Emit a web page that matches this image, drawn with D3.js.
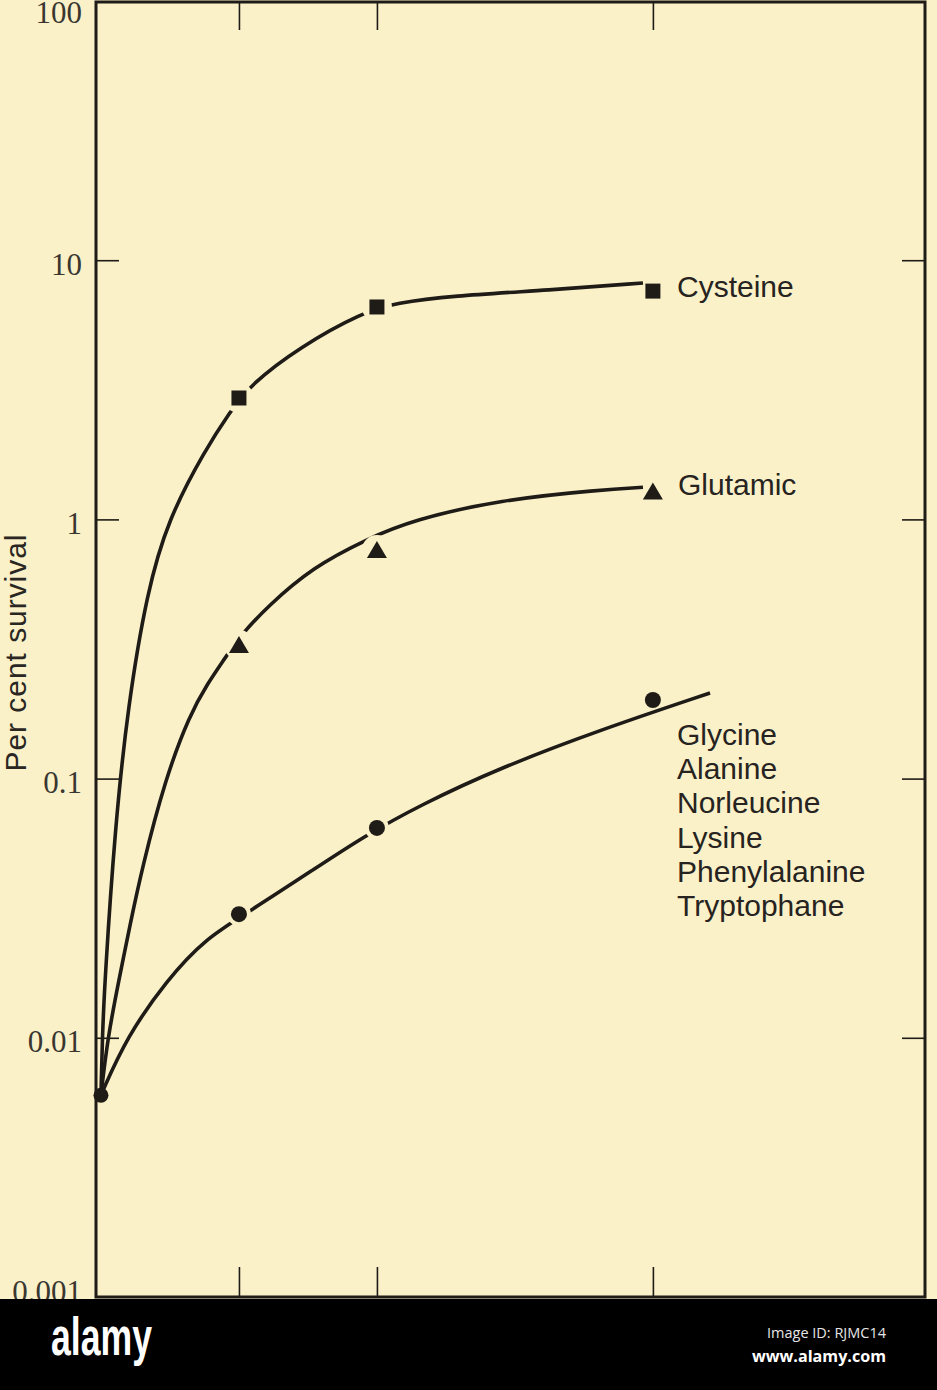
<!DOCTYPE html>
<html><head><meta charset="utf-8">
<script src="https://cdn.jsdelivr.net/npm/d3@7"></script>
<style>html,body{margin:0;padding:0;background:#FAF1C9;} svg{display:block}</style>
</head><body>
<svg id="chart" width="937" height="1390"></svg>
<script>
// ---- data ----
const yTickValues = [100, 10, 1, 0.1, 0.01, 0.001];
const yTickLabels = ["100", "10", "1", "0.1", "0.01", "0.001"];
const yInnerTicks = [10, 1, 0.1, 0.01];
const xTickValues = [5, 10, 20];

const cysteinePoints = [[5, 2.94], [10, 6.6], [20, 7.6]];
const glutamicPoints = [[5, 0.328], [10, 0.762], [20, 1.28]];
const glycinePoints  = [[0, 0.006], [5, 0.030], [10, 0.0645], [20, 0.201]];

const cysteineCurve = [[0,0.00602],[0.05,0.0101],[0.14,0.0167],[0.51,0.065],[0.98,0.192],[1.67,0.525],[2.43,1.0],[3.77,1.85],[4.67,2.59],[5.40,3.30],[7.21,4.63],[9.49,6.31],[10.72,6.84],[12.64,7.28],[16.27,7.67],[19.64,8.17]];
const glutamicCurve = [[0,0.00602],[0.25,0.0101],[0.65,0.0167],[1.05,0.0272],[1.49,0.0452],[2.32,0.099],[3.22,0.177],[3.88,0.234],[4.42,0.284],[5.04,0.355],[6.01,0.459],[7.68,0.655],[9.64,0.84],[11.30,0.995],[14.46,1.19],[18.08,1.30],[19.64,1.33]];
const glycineCurve  = [[0,0.00602],[0.94,0.0101],[2.39,0.0167],[3.77,0.0241],[5.40,0.0308],[7.68,0.0444],[9.49,0.0595],[11.56,0.079],[14.46,0.110],[18.08,0.154],[22.07,0.214]];

const seriesNames = ["Cysteine", "Glutamic"];
const groupNames = ["Glycine", "Alanine", "Norleucine", "Lysine", "Phenylalanine", "Tryptophane"];
const axisTitle = "Per cent survival";

// ---- layout ----
const BG = "#FAF1C9", INK = "#1f1b16";
const L = 96, R = 925, T = 1, B = 1297;
const svg = d3.select("#chart");
svg.append("rect").attr("width", 937).attr("height", 1390).attr("fill", BG);

const x = d3.scaleLinear().domain([-0.18, 29.86]).range([L, R]);
const y = d3.scaleLog().domain([0.001, 100]).range([B, T]);

// frame
svg.append("rect").attr("x", L).attr("y", T + 1).attr("width", R - L).attr("height", B - T - 1)
  .attr("fill", "none").attr("stroke", INK).attr("stroke-width", 3);

// inner ticks via d3 axes
const leftAxis = d3.axisRight(y).tickValues(yInnerTicks).tickSize(23).tickFormat("");
const rightAxis = d3.axisLeft(y).tickValues(yInnerTicks).tickSize(23).tickFormat("");
const topAxis = d3.axisBottom(x).tickValues(xTickValues).tickSize(28).tickFormat("");
const botAxis = d3.axisTop(x).tickValues(xTickValues).tickSize(30).tickFormat("");
function styleAxis(g){ g.select(".domain").remove(); g.selectAll("line").attr("stroke", INK).attr("stroke-width", 1.6); }
svg.append("g").attr("transform", `translate(${L},0)`).call(leftAxis).call(styleAxis);
svg.append("g").attr("transform", `translate(${R},0)`).call(rightAxis).call(styleAxis);
svg.append("g").attr("transform", `translate(0,${T+1})`).call(topAxis).call(styleAxis);
svg.append("g").attr("transform", `translate(0,${B})`).call(botAxis).call(styleAxis);

// tick labels (kept inside the picture at the ends)
svg.append("g").selectAll("text").data(yTickValues).join("text")
  .attr("x", 82).attr("y", d => Math.max(12, Math.min(1291, y(d) + 4)))
  .attr("text-anchor", "end").attr("dominant-baseline", "central")
  .attr("font-family", "Liberation Serif, serif").attr("font-size", 31)
  .attr("fill", "#3a3731")
  .text((d, i) => yTickLabels[i]);

// axis title
svg.append("text").attr("transform", "translate(26,653) rotate(-90)")
  .attr("text-anchor", "middle").attr("font-family", "Liberation Sans, Arial, sans-serif")
  .attr("font-size", 30).attr("fill", "#2a2722").attr("textLength", 237).attr("lengthAdjust", "spacing")
  .text(axisTitle);

// ---- curves with gaps around interior markers ----
const line = d3.line().x(d => x(d[0])).y(d => y(d[1])).curve(d3.curveBasis);
const mask = svg.append("defs").append("mask").attr("id", "gapmask").attr("maskUnits", "userSpaceOnUse")
  .attr("x", 0).attr("y", 0).attr("width", 937).attr("height", 1390);
mask.append("rect").attr("width", 937).attr("height", 1390).attr("fill", "white");
const markerSets = [
  {pts: cysteinePoints, gap: 15},
  {pts: glutamicPoints, gap: 15},
  {pts: glycinePoints, gap: 12}
];
markerSets.forEach(s => {
  const inner = s.pts.filter(p => p[0] > 0 && p[0] < 20);
  inner.forEach(p => {
    mask.append("circle").attr("cx", x(p[0])).attr("cy", y(p[1])).attr("r", s.gap).attr("fill", "black");
  });
});
const curves = svg.append("g").attr("mask", "url(#gapmask)");
[cysteineCurve, glutamicCurve, glycineCurve].forEach(c => {
  curves.append("path").attr("d", line(c)).attr("fill", "none")
    .attr("stroke", INK).attr("stroke-width", 3.6).attr("stroke-linecap", "butt");
});

// ---- markers ----
const mk = svg.append("g").attr("fill", INK);
mk.selectAll(".sq").data(cysteinePoints).join("rect")
  .attr("x", d => x(d[0]) - 7.5).attr("y", d => y(d[1]) - 7.5)
  .attr("width", 15).attr("height", 15);
mk.selectAll(".tri").data(glutamicPoints).join("path")
  .attr("d", d => { const cx = x(d[0]), cy = y(d[1]);
    return `M${cx},${cy-9}L${cx+10},${cy+8}L${cx-10},${cy+8}Z`; });
mk.selectAll(".ci").data(glycinePoints).join("circle")
  .attr("cx", d => x(d[0])).attr("cy", d => y(d[1])).attr("r", (d, i) => i === 0 ? 7.5 : 8);

// ---- labels ----
const lab = svg.append("g").attr("font-family", "Liberation Sans, Arial, sans-serif")
  .attr("font-size", 30).attr("fill", "#262320");
lab.append("text").attr("x", 677).attr("y", 297).text(seriesNames[0]);
lab.append("text").attr("x", 678).attr("y", 495).text(seriesNames[1]);
lab.selectAll(".g").data(groupNames).join("text")
  .attr("x", 677).attr("y", (d, i) => 745 + i * 34.2).text(d => d);

// ---- bottom banner ----
svg.append("rect").attr("x", 0).attr("y", 1299).attr("width", 937).attr("height", 91).attr("fill", "#000");
svg.append("text").attr("x", 51).attr("y", 1355).attr("font-family", "Liberation Sans Narrow, Liberation Sans, sans-serif")
  .attr("font-weight", "bold").attr("font-size", 54).attr("fill", "#fff")
  .attr("textLength", 101).attr("lengthAdjust", "spacingAndGlyphs").text("alamy");
svg.append("text").attr("x", 886).attr("y", 1338).attr("text-anchor", "end")
  .attr("font-family", "Open Sans, sans-serif").attr("font-size", 15).attr("fill", "#e6e6e6")
  .attr("textLength", 119).attr("lengthAdjust", "spacingAndGlyphs").text("Image ID: RJMC14");
svg.append("text").attr("x", 886).attr("y", 1362).attr("text-anchor", "end")
  .attr("font-family", "Open Sans, sans-serif").attr("font-weight", "bold").attr("font-size", 16).attr("fill", "#fff")
  .attr("textLength", 134).attr("lengthAdjust", "spacingAndGlyphs").text("www.alamy.com");
</script>
</body></html>
